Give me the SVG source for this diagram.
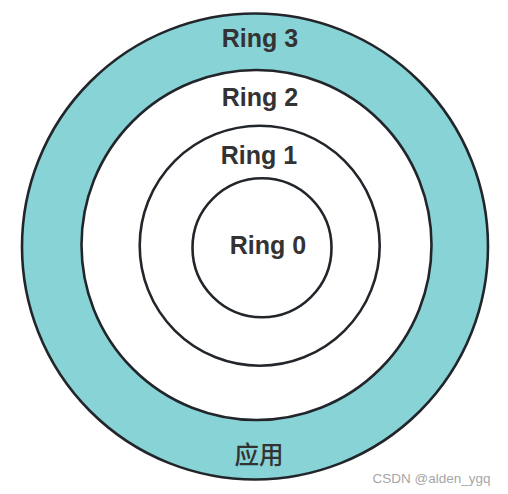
<svg xmlns="http://www.w3.org/2000/svg" width="508" height="494" viewBox="0 0 508 494">
<style>
.ring{stroke:#22262b;stroke-width:2.6}
.lbl{font-family:"Liberation Sans",Arial,sans-serif;font-weight:bold;font-size:25px;fill:#333333;text-anchor:middle}
.cjk{font-family:"Noto Sans CJK SC","Noto Sans",sans-serif;font-weight:500;font-size:24.5px;fill:#333333;text-anchor:middle}
.wm{font-family:"Liberation Sans",Arial,sans-serif;font-size:13.5px;fill:#a6a6a6}
</style>
<rect width="508" height="494" fill="#ffffff"/>
<g id="ring3">
<circle class="ring" cx="255" cy="246.5" r="233" fill="#88d3d6"/>
<text class="lbl" x="260" y="47">Ring 3</text>
<text class="cjk" x="259" y="463.5">应用</text>
</g>
<g id="ring2">
<circle class="ring" cx="256.5" cy="245" r="175" fill="#ffffff"/>
<text class="lbl" x="260" y="106">Ring 2</text>
</g>
<g id="ring1">
<circle class="ring" cx="259.7" cy="245.7" r="120" fill="#ffffff"/>
<text class="lbl" x="259" y="163.5">Ring 1</text>
</g>
<g id="ring0">
<circle class="ring" cx="262" cy="247.7" r="69.5" fill="#ffffff"/>
<text class="lbl" x="268" y="253.5">Ring 0</text>
</g>
<g id="connectors"/>
<text class="wm" x="372.5" y="482.5">CSDN @alden_ygq</text>
</svg>
